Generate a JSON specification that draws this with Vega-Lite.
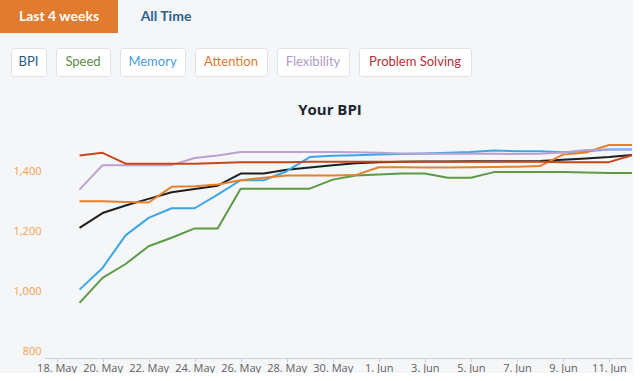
{
  "$schema": "https://vega.github.io/schema/vega-lite/v6.json",
  "background": "#f5f6f8",
  "padding": 0,
  "config": {"view": {"stroke": null}},
  "spacing": 26,
  "vconcat": [
    {
      "spacing": 14,
      "vconcat": [
        {
          "spacing": 0,
          "hconcat": [
            {"width": 118, "height": 33, "view": {"fill": "#e17b2f"}, "data": {"values": [{"label": "Last 4 weeks"}]}, "mark": {"type": "text", "font": "Lato", "fontSize": 14, "fontWeight": "bold", "color": "#ffffff"}, "encoding": {"text": {"field": "label"}}},
            {"width": 96, "height": 33, "data": {"values": [{"label": "All Time"}]}, "mark": {"type": "text", "font": "Lato", "fontSize": 14, "fontWeight": "bold", "color": "#2f5f8a"}, "encoding": {"text": {"field": "label"}}}
          ]
        },
        {
          "spacing": 8,
          "hconcat": [
            {"width": 2, "height": 28, "data": {"values": [{"label": " "}]}, "mark": {"type": "text"}, "encoding": {"text": {"field": "label"}}},
            {"width": 35, "height": 28, "view": {"fill": "#ffffff", "stroke": "#dde3e9", "cornerRadius": 3}, "data": {"values": [{"label": "BPI"}]}, "mark": {"type": "text", "font": "Lato", "fontSize": 13, "color": "#2b5a84"}, "encoding": {"text": {"field": "label"}}},
            {"width": 54, "height": 28, "view": {"fill": "#ffffff", "stroke": "#dde3e9", "cornerRadius": 3}, "data": {"values": [{"label": "Speed"}]}, "mark": {"type": "text", "font": "Lato", "fontSize": 13, "color": "#5b8c47"}, "encoding": {"text": {"field": "label"}}},
            {"width": 65, "height": 28, "view": {"fill": "#ffffff", "stroke": "#dde3e9", "cornerRadius": 3}, "data": {"values": [{"label": "Memory"}]}, "mark": {"type": "text", "font": "Lato", "fontSize": 13, "color": "#4a9be0"}, "encoding": {"text": {"field": "label"}}},
            {"width": 72, "height": 28, "view": {"fill": "#ffffff", "stroke": "#dde3e9", "cornerRadius": 3}, "data": {"values": [{"label": "Attention"}]}, "mark": {"type": "text", "font": "Lato", "fontSize": 13, "color": "#e07a30"}, "encoding": {"text": {"field": "label"}}},
            {"width": 72, "height": 28, "view": {"fill": "#ffffff", "stroke": "#dde3e9", "cornerRadius": 3}, "data": {"values": [{"label": "Flexibility"}]}, "mark": {"type": "text", "font": "Lato", "fontSize": 13, "color": "#b19cc8"}, "encoding": {"text": {"field": "label"}}},
            {"width": 112, "height": 28, "view": {"fill": "#ffffff", "stroke": "#dde3e9", "cornerRadius": 3}, "data": {"values": [{"label": "Problem Solving"}]}, "mark": {"type": "text", "font": "Lato", "fontSize": 13, "color": "#b0313a"}, "encoding": {"text": {"field": "label"}}}
          ]
        }
      ]
    },
    {
      "width": 632,
      "height": 232,
      "title": {"text": "Your BPI", "font": "Open Sans", "fontSize": 15, "fontWeight": "bold", "color": "#1c2733", "frame": "group", "anchor": "middle", "dx": 14, "offset": 8},
      "data": {"values": [
        {"date": "2015-05-19", "series": "BPI", "value": 1212},
        {"date": "2015-05-20", "series": "BPI", "value": 1261},
        {"date": "2015-05-21", "series": "BPI", "value": 1286},
        {"date": "2015-05-22", "series": "BPI", "value": 1308},
        {"date": "2015-05-23", "series": "BPI", "value": 1330},
        {"date": "2015-05-24", "series": "BPI", "value": 1341},
        {"date": "2015-05-25", "series": "BPI", "value": 1352},
        {"date": "2015-05-26", "series": "BPI", "value": 1392},
        {"date": "2015-05-27", "series": "BPI", "value": 1392},
        {"date": "2015-05-28", "series": "BPI", "value": 1405},
        {"date": "2015-05-29", "series": "BPI", "value": 1412},
        {"date": "2015-05-30", "series": "BPI", "value": 1420},
        {"date": "2015-05-31", "series": "BPI", "value": 1426},
        {"date": "2015-06-01", "series": "BPI", "value": 1430},
        {"date": "2015-06-02", "series": "BPI", "value": 1431},
        {"date": "2015-06-03", "series": "BPI", "value": 1432},
        {"date": "2015-06-04", "series": "BPI", "value": 1432},
        {"date": "2015-06-05", "series": "BPI", "value": 1433},
        {"date": "2015-06-06", "series": "BPI", "value": 1433},
        {"date": "2015-06-07", "series": "BPI", "value": 1433},
        {"date": "2015-06-08", "series": "BPI", "value": 1434},
        {"date": "2015-06-09", "series": "BPI", "value": 1438},
        {"date": "2015-06-10", "series": "BPI", "value": 1442},
        {"date": "2015-06-11", "series": "BPI", "value": 1447},
        {"date": "2015-06-12", "series": "BPI", "value": 1454},
        {"date": "2015-05-19", "series": "Speed", "value": 963},
        {"date": "2015-05-20", "series": "Speed", "value": 1046},
        {"date": "2015-05-21", "series": "Speed", "value": 1092},
        {"date": "2015-05-22", "series": "Speed", "value": 1151},
        {"date": "2015-05-23", "series": "Speed", "value": 1179},
        {"date": "2015-05-24", "series": "Speed", "value": 1210},
        {"date": "2015-05-25", "series": "Speed", "value": 1210},
        {"date": "2015-05-26", "series": "Speed", "value": 1342},
        {"date": "2015-05-27", "series": "Speed", "value": 1342},
        {"date": "2015-05-28", "series": "Speed", "value": 1342},
        {"date": "2015-05-29", "series": "Speed", "value": 1342},
        {"date": "2015-05-30", "series": "Speed", "value": 1372},
        {"date": "2015-05-31", "series": "Speed", "value": 1386},
        {"date": "2015-06-01", "series": "Speed", "value": 1389},
        {"date": "2015-06-02", "series": "Speed", "value": 1392},
        {"date": "2015-06-03", "series": "Speed", "value": 1392},
        {"date": "2015-06-04", "series": "Speed", "value": 1378},
        {"date": "2015-06-05", "series": "Speed", "value": 1378},
        {"date": "2015-06-06", "series": "Speed", "value": 1397},
        {"date": "2015-06-07", "series": "Speed", "value": 1397},
        {"date": "2015-06-08", "series": "Speed", "value": 1397},
        {"date": "2015-06-09", "series": "Speed", "value": 1397},
        {"date": "2015-06-10", "series": "Speed", "value": 1396},
        {"date": "2015-06-11", "series": "Speed", "value": 1394},
        {"date": "2015-06-12", "series": "Speed", "value": 1394},
        {"date": "2015-05-19", "series": "Memory", "value": 1007},
        {"date": "2015-05-20", "series": "Memory", "value": 1079},
        {"date": "2015-05-21", "series": "Memory", "value": 1187},
        {"date": "2015-05-22", "series": "Memory", "value": 1245},
        {"date": "2015-05-23", "series": "Memory", "value": 1277},
        {"date": "2015-05-24", "series": "Memory", "value": 1277},
        {"date": "2015-05-25", "series": "Memory", "value": 1322},
        {"date": "2015-05-26", "series": "Memory", "value": 1370},
        {"date": "2015-05-27", "series": "Memory", "value": 1370},
        {"date": "2015-05-28", "series": "Memory", "value": 1400},
        {"date": "2015-05-29", "series": "Memory", "value": 1447},
        {"date": "2015-05-30", "series": "Memory", "value": 1451},
        {"date": "2015-05-31", "series": "Memory", "value": 1453},
        {"date": "2015-06-01", "series": "Memory", "value": 1455},
        {"date": "2015-06-02", "series": "Memory", "value": 1457},
        {"date": "2015-06-03", "series": "Memory", "value": 1459},
        {"date": "2015-06-04", "series": "Memory", "value": 1461},
        {"date": "2015-06-05", "series": "Memory", "value": 1464},
        {"date": "2015-06-06", "series": "Memory", "value": 1469},
        {"date": "2015-06-07", "series": "Memory", "value": 1466},
        {"date": "2015-06-08", "series": "Memory", "value": 1466},
        {"date": "2015-06-09", "series": "Memory", "value": 1463},
        {"date": "2015-06-10", "series": "Memory", "value": 1466},
        {"date": "2015-06-11", "series": "Memory", "value": 1472},
        {"date": "2015-06-12", "series": "Memory", "value": 1472},
        {"date": "2015-05-19", "series": "Attention", "value": 1300},
        {"date": "2015-05-20", "series": "Attention", "value": 1300},
        {"date": "2015-05-21", "series": "Attention", "value": 1298},
        {"date": "2015-05-22", "series": "Attention", "value": 1296},
        {"date": "2015-05-23", "series": "Attention", "value": 1348},
        {"date": "2015-05-24", "series": "Attention", "value": 1350},
        {"date": "2015-05-25", "series": "Attention", "value": 1356},
        {"date": "2015-05-26", "series": "Attention", "value": 1370},
        {"date": "2015-05-27", "series": "Attention", "value": 1378},
        {"date": "2015-05-28", "series": "Attention", "value": 1386},
        {"date": "2015-05-29", "series": "Attention", "value": 1386},
        {"date": "2015-05-30", "series": "Attention", "value": 1386},
        {"date": "2015-05-31", "series": "Attention", "value": 1387},
        {"date": "2015-06-01", "series": "Attention", "value": 1413},
        {"date": "2015-06-02", "series": "Attention", "value": 1413},
        {"date": "2015-06-03", "series": "Attention", "value": 1412},
        {"date": "2015-06-04", "series": "Attention", "value": 1412},
        {"date": "2015-06-05", "series": "Attention", "value": 1413},
        {"date": "2015-06-06", "series": "Attention", "value": 1414},
        {"date": "2015-06-07", "series": "Attention", "value": 1415},
        {"date": "2015-06-08", "series": "Attention", "value": 1417},
        {"date": "2015-06-09", "series": "Attention", "value": 1455},
        {"date": "2015-06-10", "series": "Attention", "value": 1462},
        {"date": "2015-06-11", "series": "Attention", "value": 1487},
        {"date": "2015-06-12", "series": "Attention", "value": 1487},
        {"date": "2015-05-19", "series": "Flexibility", "value": 1339},
        {"date": "2015-05-20", "series": "Flexibility", "value": 1420},
        {"date": "2015-05-21", "series": "Flexibility", "value": 1420},
        {"date": "2015-05-22", "series": "Flexibility", "value": 1420},
        {"date": "2015-05-23", "series": "Flexibility", "value": 1420},
        {"date": "2015-05-24", "series": "Flexibility", "value": 1444},
        {"date": "2015-05-25", "series": "Flexibility", "value": 1452},
        {"date": "2015-05-26", "series": "Flexibility", "value": 1464},
        {"date": "2015-05-27", "series": "Flexibility", "value": 1464},
        {"date": "2015-05-28", "series": "Flexibility", "value": 1464},
        {"date": "2015-05-29", "series": "Flexibility", "value": 1464},
        {"date": "2015-05-30", "series": "Flexibility", "value": 1464},
        {"date": "2015-05-31", "series": "Flexibility", "value": 1463},
        {"date": "2015-06-01", "series": "Flexibility", "value": 1461},
        {"date": "2015-06-02", "series": "Flexibility", "value": 1459},
        {"date": "2015-06-03", "series": "Flexibility", "value": 1458},
        {"date": "2015-06-04", "series": "Flexibility", "value": 1458},
        {"date": "2015-06-05", "series": "Flexibility", "value": 1458},
        {"date": "2015-06-06", "series": "Flexibility", "value": 1458},
        {"date": "2015-06-07", "series": "Flexibility", "value": 1457},
        {"date": "2015-06-08", "series": "Flexibility", "value": 1458},
        {"date": "2015-06-09", "series": "Flexibility", "value": 1462},
        {"date": "2015-06-10", "series": "Flexibility", "value": 1470},
        {"date": "2015-06-11", "series": "Flexibility", "value": 1472},
        {"date": "2015-06-12", "series": "Flexibility", "value": 1472},
        {"date": "2015-05-19", "series": "Problem Solving", "value": 1452},
        {"date": "2015-05-20", "series": "Problem Solving", "value": 1461},
        {"date": "2015-05-21", "series": "Problem Solving", "value": 1425},
        {"date": "2015-05-22", "series": "Problem Solving", "value": 1425},
        {"date": "2015-05-23", "series": "Problem Solving", "value": 1425},
        {"date": "2015-05-24", "series": "Problem Solving", "value": 1425},
        {"date": "2015-05-25", "series": "Problem Solving", "value": 1427},
        {"date": "2015-05-26", "series": "Problem Solving", "value": 1430},
        {"date": "2015-05-27", "series": "Problem Solving", "value": 1430},
        {"date": "2015-05-28", "series": "Problem Solving", "value": 1430},
        {"date": "2015-05-29", "series": "Problem Solving", "value": 1431},
        {"date": "2015-05-30", "series": "Problem Solving", "value": 1431},
        {"date": "2015-05-31", "series": "Problem Solving", "value": 1431},
        {"date": "2015-06-01", "series": "Problem Solving", "value": 1431},
        {"date": "2015-06-02", "series": "Problem Solving", "value": 1431},
        {"date": "2015-06-03", "series": "Problem Solving", "value": 1431},
        {"date": "2015-06-04", "series": "Problem Solving", "value": 1431},
        {"date": "2015-06-05", "series": "Problem Solving", "value": 1431},
        {"date": "2015-06-06", "series": "Problem Solving", "value": 1431},
        {"date": "2015-06-07", "series": "Problem Solving", "value": 1431},
        {"date": "2015-06-08", "series": "Problem Solving", "value": 1431},
        {"date": "2015-06-09", "series": "Problem Solving", "value": 1430},
        {"date": "2015-06-10", "series": "Problem Solving", "value": 1430},
        {"date": "2015-06-11", "series": "Problem Solving", "value": 1430},
        {"date": "2015-06-12", "series": "Problem Solving", "value": 1453}
      ]},
      "mark": {"type": "line", "strokeWidth": 2, "strokeJoin": "round"},
      "encoding": {
        "x": {
          "field": "date", "type": "temporal",
          "scale": {"type": "utc", "range": [45, 632], "domain": [{"year": 2015, "month": 5, "date": 17, "hours": 12, "utc": true}, {"year": 2015, "month": 6, "date": 12, "utc": true}]},
          "axis": {
            "title": null,
            "values": [
              {"year": 2015, "month": 5, "date": 18, "utc": true},
              {"year": 2015, "month": 5, "date": 20, "utc": true},
              {"year": 2015, "month": 5, "date": 22, "utc": true},
              {"year": 2015, "month": 5, "date": 24, "utc": true},
              {"year": 2015, "month": 5, "date": 26, "utc": true},
              {"year": 2015, "month": 5, "date": 28, "utc": true},
              {"year": 2015, "month": 5, "date": 30, "utc": true},
              {"year": 2015, "month": 6, "date": 1, "utc": true},
              {"year": 2015, "month": 6, "date": 3, "utc": true},
              {"year": 2015, "month": 6, "date": 5, "utc": true},
              {"year": 2015, "month": 6, "date": 7, "utc": true},
              {"year": 2015, "month": 6, "date": 9, "utc": true},
              {"year": 2015, "month": 6, "date": 11, "utc": true}
            ],
            "labelExpr": "utcFormat(datum.value, '%-d. %b')",
            "grid": false, "domainColor": "#c7d3df", "tickColor": "#c7d3df", "tickSize": 4,
            "labelFont": "Open Sans", "labelFontSize": 11, "labelColor": "#606060", "labelPadding": 0,
            "labelOverlap": false, "labelFlush": false
          }
        },
        "y": {
          "field": "value", "type": "quantitative",
          "scale": {"domain": [780, 1550], "nice": false, "zero": false},
          "axis": {
            "title": null, "values": [800, 1000, 1200, 1400], "labelExpr": "format(datum.value, ',')",
            "grid": false, "domain": false, "ticks": false, "tickSize": 0,
            "labelFont": "Open Sans", "labelFontSize": 11, "labelColor": "#f4a04a", "labelPadding": -41, "labelAlign": "right"
          }
        },
        "color": {
          "field": "series", "type": "nominal",
          "scale": {"domain": ["BPI", "Speed", "Memory", "Attention", "Flexibility", "Problem Solving"], "range": ["#1e1e1e", "#5c9a48", "#3ca6ea", "#e8802a", "#b9a2cf", "#c9461c"]},
          "legend": null
        }
      }
    }
  ]
}
